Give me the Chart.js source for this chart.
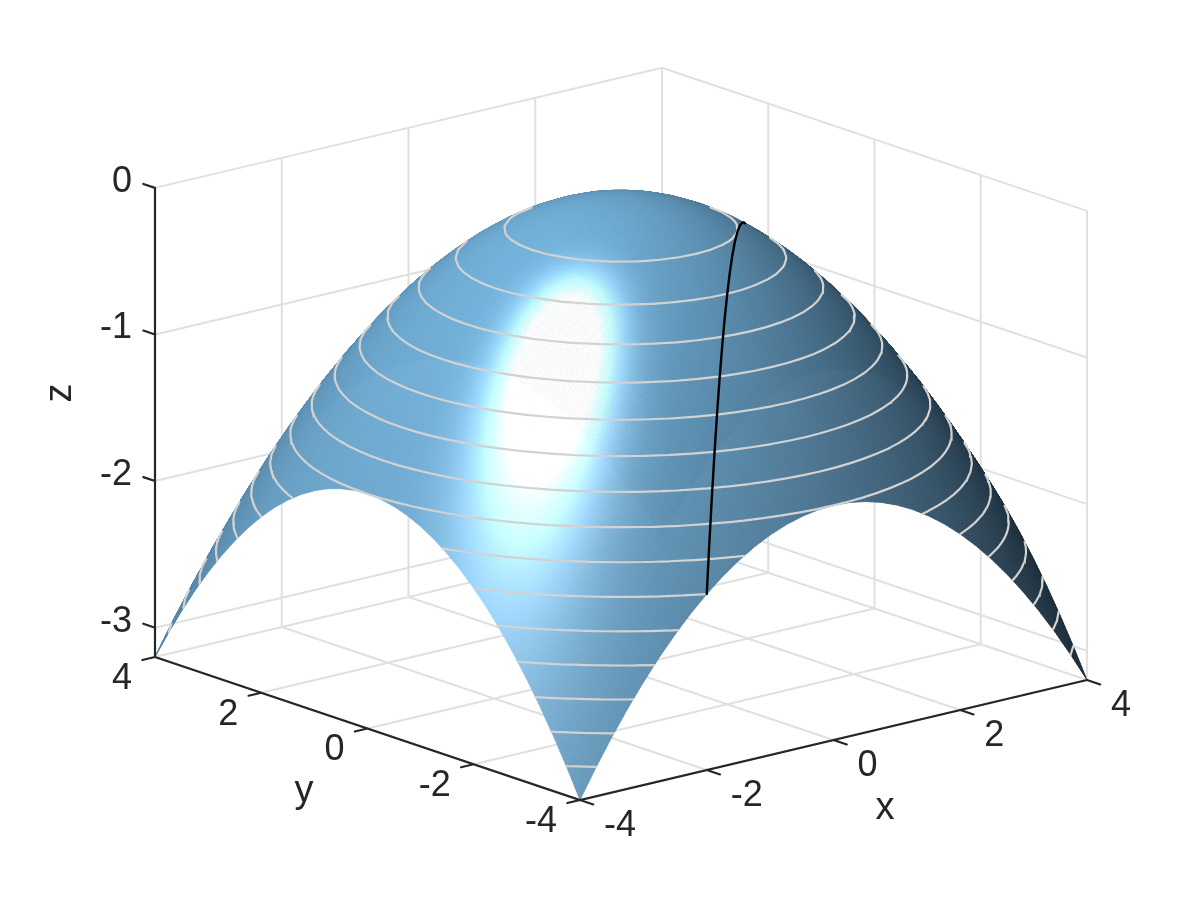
<!DOCTYPE html>
<html>
<head>
<meta charset="utf-8">
<title>surface</title>
<style>
  body { margin: 0; background: #fff; }
  canvas { display: block; }
</style>
<script src="https://cdn.jsdelivr.net/npm/chart.js@4"></script>
</head>
<body>
<canvas id="surfaceChart" width="1200" height="900"></canvas>
<script>
// tick values
var xTicks = [-4, -2, 0, 2, 4];
var yTicks = [-4, -2, 0, 2, 4];
var zTicks = [0, -1, -2, -3];
var zRange = [-3.2, 0];

// z on a 0.25 step, for |x| (rows) and |y| (columns), 0 to 4
var surfaceZ = [
  [0,-.006,-.025,-.056,-.1,-.156,-.225,-.306,-.4,-.506,-.625,-.756,-.9,-1.056,-1.225,-1.406,-1.6],
  [-.006,-.012,-.031,-.062,-.106,-.162,-.231,-.312,-.406,-.512,-.631,-.762,-.906,-1.062,-1.231,-1.412,-1.606],
  [-.025,-.031,-.05,-.081,-.125,-.181,-.25,-.331,-.425,-.531,-.65,-.781,-.925,-1.081,-1.25,-1.431,-1.625],
  [-.056,-.062,-.081,-.112,-.156,-.212,-.281,-.362,-.456,-.562,-.681,-.812,-.956,-1.112,-1.281,-1.462,-1.656],
  [-.1,-.106,-.125,-.156,-.2,-.256,-.325,-.406,-.5,-.606,-.725,-.856,-1,-1.156,-1.325,-1.506,-1.7],
  [-.156,-.162,-.181,-.212,-.256,-.312,-.381,-.462,-.556,-.662,-.781,-.912,-1.056,-1.212,-1.381,-1.562,-1.756],
  [-.225,-.231,-.25,-.281,-.325,-.381,-.45,-.531,-.625,-.731,-.85,-.981,-1.125,-1.281,-1.45,-1.631,-1.825],
  [-.306,-.312,-.331,-.362,-.406,-.462,-.531,-.612,-.706,-.812,-.931,-1.062,-1.206,-1.362,-1.531,-1.712,-1.906],
  [-.4,-.406,-.425,-.456,-.5,-.556,-.625,-.706,-.8,-.906,-1.025,-1.156,-1.3,-1.456,-1.625,-1.806,-2],
  [-.506,-.512,-.531,-.562,-.606,-.662,-.731,-.812,-.906,-1.012,-1.131,-1.262,-1.406,-1.562,-1.731,-1.912,-2.106],
  [-.625,-.631,-.65,-.681,-.725,-.781,-.85,-.931,-1.025,-1.131,-1.25,-1.381,-1.525,-1.681,-1.85,-2.031,-2.225],
  [-.756,-.762,-.781,-.812,-.856,-.912,-.981,-1.062,-1.156,-1.262,-1.381,-1.512,-1.656,-1.812,-1.981,-2.162,-2.356],
  [-.9,-.906,-.925,-.956,-1,-1.056,-1.125,-1.206,-1.3,-1.406,-1.525,-1.656,-1.8,-1.956,-2.125,-2.306,-2.5],
  [-1.056,-1.062,-1.081,-1.112,-1.156,-1.212,-1.281,-1.362,-1.456,-1.562,-1.681,-1.812,-1.956,-2.112,-2.281,-2.462,-2.656],
  [-1.225,-1.231,-1.25,-1.281,-1.325,-1.381,-1.45,-1.531,-1.625,-1.731,-1.85,-1.981,-2.125,-2.281,-2.45,-2.631,-2.825],
  [-1.406,-1.412,-1.431,-1.462,-1.506,-1.562,-1.631,-1.712,-1.806,-1.912,-2.031,-2.162,-2.306,-2.462,-2.631,-2.812,-3.006],
  [-1.6,-1.606,-1.625,-1.656,-1.7,-1.756,-1.825,-1.906,-2,-2.106,-2.225,-2.356,-2.5,-2.656,-2.825,-3.006,-3.2]
];

// white rings
var contourLevels = [-.2,-.4,-.6,-.8,-1,-1.2,-1.4,-1.6,-1.8,-2,-2.2,-2.4,-2.6,-2.8,-3];

// black path over the dome
var pathX = [-2,-1.75,-1.5,-1.25,-1,-.75,-.5,-.25,0,.25,.5,.75,1,1.25,1.5,1.62,1.72];
var pathY = [-4,-3.75,-3.5,-3.25,-3,-2.75,-2.5,-2.25,-2,-1.75,-1.5,-1.25,-1,-.75,-.5,-.38,-.28];
var pathZ = [-2,-1.712,-1.45,-1.212,-1,-.812,-.65,-.512,-.4,-.312,-.25,-.212,-.2,-.212,-.25,-.277,-.304];

// view: screen pixels per data unit, looking at the corner x=-4, y=-4, z=-3.2
var corner = [580, 800];
var xStep = [63.375, -15];
var yStep = [-53.125, -17.875];
var zStep = 146.6;
var stretch = 1.85;                       // z against x/y once the box is unprojected
var toViewer = [-0.616, -0.736, 0.281];

function project(x, y, z) {
  return {
    x: corner[0] + (x + 4) * xStep[0] + (y + 4) * yStep[0],
    y: corner[1] + (x + 4) * xStep[1] + (y + 4) * yStep[1] - (z - zRange[0]) * zStep
  };
}

var N = 32, H = 0.25, W = 3;
function zAt(i, j) {
  return surfaceZ[Math.abs(i - 16)][Math.abs(j - 16)];
}
// slope over a wide stencil so the rounding in the table does not show in the light,
// carried on straight for the last few rows
function slopeX(i, j) {
  return (zAt(i + W, j) - zAt(i - W, j)) / (2 * W * H);
}
function slopeY(i, j) {
  return (zAt(i, j + W) - zAt(i, j - W)) / (2 * W * H);
}
function gridNormal(i, j) {
  var ci = Math.min(Math.max(i, W), N - W), cj = Math.min(Math.max(j, W), N - W);
  var bendX = (slopeX(N - W, cj) - slopeX(W, cj)) / (N - 2 * W);
  var bendY = (slopeY(ci, N - W) - slopeY(ci, W)) / (N - 2 * W);
  var gx = slopeX(ci, cj) + (i - ci) * bendX;
  var gy = slopeY(ci, cj) + (j - cj) * bendY;
  var v = [-gx * stretch, -gy * stretch, 1];
  var l = Math.hypot(v[0], v[1], v[2]);
  return [v[0] / l, v[1] / l, v[2] / l];
}
var normals = [];
for (var ni = 0; ni <= N; ni++) {
  normals.push([]);
  for (var nj = 0; nj <= N; nj++) normals[ni].push(gridNormal(ni, nj));
}
function blend(a, b, c, d, s, t) {
  return (1 - s) * (1 - t) * a + s * (1 - t) * b + (1 - s) * t * c + s * t * d;
}
function normalAt(i, j, s, t) {
  var v = [0, 1, 2].map(function (k) {
    return blend(normals[i][j][k], normals[i + 1][j][k], normals[i][j + 1][k], normals[i + 1][j + 1][k], s, t);
  });
  var l = Math.hypot(v[0], v[1], v[2]);
  return [v[0] / l, v[1] / l, v[2] / l];
}
function dot(a, b) { return a[0] * b[0] + a[1] * b[1] + a[2] * b[2]; }

// shading
var lightDir = [-0.52, -0.05, 0.85];
var ambient = [24, 38, 50];
var diffuse = [94, 143, 172];
var glints = [
  { dir: [-0.55, -0.36, 0.75], power: 70, gain: 175 },
  { dir: [-0.63, -0.41, 0.66], power: 80, gain: 125 },
  { dir: [-0.68, -0.45, 0.58], power: 40, gain: 30 }
];
function shade(n) {
  var nl = Math.max(dot(n, lightDir), 0);
  var spec = 0;
  glints.forEach(function (g) {
    var len = Math.hypot(g.dir[0], g.dir[1], g.dir[2]);
    spec += g.gain * Math.pow(Math.max(dot(n, g.dir) / len, 0), g.power);
  });
  var c = [0, 1, 2].map(function (k) {
    return Math.min(255, Math.round(ambient[k] + diffuse[k] * nl + spec));
  });
  return 'rgb(' + c[0] + ',' + c[1] + ',' + c[2] + ')';
}

function lineOf(points) {
  var out = [];
  points.forEach(function (p) {
    var q = project(p[0], p[1], p[2]);
    out.push(q);
  });
  return out;
}
function gap() { return { x: NaN, y: NaN }; }

// grid on the floor and the two back walls
var gridData = [];
var zLo = zRange[0], zHi = zRange[1];
xTicks.forEach(function (x) {
  gridData = gridData.concat(lineOf([[x, -4, zLo], [x, 4, zLo], [x, 4, zHi]]), [gap()]);
});
yTicks.forEach(function (y) {
  gridData = gridData.concat(lineOf([[-4, y, zLo], [4, y, zLo], [4, y, zHi]]), [gap()]);
});
zTicks.forEach(function (z) {
  gridData = gridData.concat(lineOf([[-4, 4, z], [4, 4, z], [4, -4, z]]), [gap()]);
});

// front axes and their tick marks
var axisData = lineOf([[4, -4, zLo], [-4, -4, zLo], [-4, 4, zLo], [-4, 4, zHi]]);
axisData.push(gap());
xTicks.forEach(function (x) {
  axisData = axisData.concat(lineOf([[x, -4, zLo], [x, -4.25, zLo]]), [gap()]);
});
yTicks.forEach(function (y) {
  axisData = axisData.concat(lineOf([[-4, y, zLo], [-4.2, y, zLo]]), [gap()]);
});
zTicks.forEach(function (z) {
  axisData = axisData.concat(lineOf([[-4, 4, z], [-4, 4.22, z]]), [gap()]);
});

// rings: walk the table cells, keep the side that faces the viewer
var contourData = [];
contourLevels.forEach(function (level) {
  for (var i = 0; i < N; i++) {
    for (var j = 0; j < N; j++) {
      var a = zAt(i, j), b = zAt(i + 1, j), c = zAt(i + 1, j + 1), d = zAt(i, j + 1);
      var hits = [];
      if ((a > level) !== (b > level)) hits.push([i + (level - a) / (b - a), j]);
      if ((b > level) !== (c > level)) hits.push([i + 1, j + (level - b) / (c - b)]);
      if ((d > level) !== (c > level)) hits.push([i + (level - d) / (c - d), j + 1]);
      if ((a > level) !== (d > level)) hits.push([i, j + (level - a) / (d - a)]);
      if (hits.length < 2) continue;
      var mi = (hits[0][0] + hits[1][0]) / 2, mj = (hits[0][1] + hits[1][1]) / 2;
      if (dot(normalAt(i, j, mi - i, mj - j), toViewer) < -0.005) continue;
      contourData.push(
        project((hits[0][0] - 16) * H, (hits[0][1] - 16) * H, level),
        project((hits[1][0] - 16) * H, (hits[1][1] - 16) * H, level),
        gap()
      );
    }
  }
});

var pathData = pathX.map(function (x, k) { return project(x, pathY[k], pathZ[k]); });

function paintSurface(chart) {
  var ctx = chart.ctx, sx = chart.scales.x, sy = chart.scales.y;
  var sub = 8, cells = [];
  function pt(i, j, s, t) {
    var z = blend(zAt(i, j), zAt(i + 1, j), zAt(i, j + 1), zAt(i + 1, j + 1), s, t);
    return project((i + s - 16) * H, (j + t - 16) * H, z);
  }
  for (var i = 0; i < N; i++) {
    for (var j = 0; j < N; j++) {
      for (var a = 0; a < sub; a++) {
        for (var b = 0; b < sub; b++) {
          var s0 = a / sub, s1 = (a + 1) / sub, t0 = b / sub, t1 = (b + 1) / sub;
          var x = (i + s0 + 0.5 / sub - 16) * H, y = (j + t0 + 0.5 / sub - 16) * H;
          var zm = blend(zAt(i, j), zAt(i + 1, j), zAt(i, j + 1), zAt(i + 1, j + 1), s0 + 0.5 / sub, t0 + 0.5 / sub);
          cells.push({
            depth: 0.616 * x + 0.736 * y - 0.281 * stretch * zm,
            pts: [pt(i, j, s0, t0), pt(i, j, s1, t0), pt(i, j, s1, t1), pt(i, j, s0, t1)],
            color: shade(normalAt(i, j, s0 + 0.5 / sub, t0 + 0.5 / sub))
          });
        }
      }
    }
  }
  cells.sort(function (p, q) { return q.depth - p.depth; });
  ctx.save();
  ctx.lineWidth = 0.7;
  ctx.lineJoin = 'round';
  cells.forEach(function (c) {
    ctx.beginPath();
    c.pts.forEach(function (p, k) {
      var px = sx.getPixelForValue(p.x), py = sy.getPixelForValue(p.y);
      if (k === 0) ctx.moveTo(px, py); else ctx.lineTo(px, py);
    });
    ctx.closePath();
    ctx.fillStyle = c.color;
    ctx.strokeStyle = c.color;
    ctx.fill();
    ctx.stroke();
  });
  ctx.restore();
}

var surfacePlugin = {
  id: 'surfacePlugin',
  afterDatasetDraw: function (chart, args) {
    if (chart.data.datasets[args.index].label === 'surface') paintSurface(chart);
  },
  afterDraw: function (chart) {
    var ctx = chart.ctx, sx = chart.scales.x, sy = chart.scales.y;
    function at(x, y, z) {
      var p = project(x, y, z);
      return [sx.getPixelForValue(p.x), sy.getPixelForValue(p.y)];
    }
    ctx.save();
    ctx.fillStyle = '#262626';
    ctx.font = '36px "Liberation Sans"';
    ctx.textBaseline = 'middle';
    ctx.textAlign = 'left';
    xTicks.forEach(function (x) {
      var p = at(x, -4, zLo);
      ctx.fillText(String(x), p[0] + 24, p[1] + 26);
    });
    ctx.textAlign = 'right';
    yTicks.forEach(function (y) {
      var p = at(-4, y, zLo);
      ctx.fillText(String(y), p[0] - 23, p[1] + 22);
    });
    zTicks.forEach(function (z) {
      var p = at(-4, 4, z);
      ctx.fillText(String(z), p[0] - 23, p[1] - 6);
    });
    ctx.font = '38px "Liberation Sans"';
    ctx.textAlign = 'center';
    ctx.fillText('x', 885, 809);
    ctx.fillText('y', 304, 792);
    ctx.translate(61, 393);
    ctx.rotate(-Math.PI / 2);
    ctx.fillText('z', 0, 0);
    ctx.restore();
  }
};

function track(label, data, color, width, order) {
  return {
    label: label, data: data, showLine: true, pointRadius: 0, spanGaps: false,
    borderColor: color, borderWidth: width, borderCapStyle: 'round', order: order
  };
}

var ctxS = document.getElementById('surfaceChart').getContext('2d');
var surfaceChart = new Chart(ctxS, {
  type: 'scatter',
  data: {
    datasets: [
      track('grid', gridData, '#e0e0e0', 2, 4),
      track('surface', [], '#6fadd6', 0, 3),
      track('contours', contourData, '#d2d2d2', 2.2, 2),
      track('path', pathData, '#000000', 2.4, 1),
      track('axes', axisData, '#262626', 2.2, 0)
    ]
  },
  options: {
    responsive: false,
    animation: false,
    events: [],
    layout: { padding: 0 },
    plugins: { legend: { display: false }, tooltip: { enabled: false } },
    scales: {
      x: { type: 'linear', min: 0, max: 1200, display: false },
      y: { type: 'linear', min: 0, max: 900, reverse: true, display: false }
    }
  },
  plugins: [surfacePlugin]
});
</script>
</body>
</html>
